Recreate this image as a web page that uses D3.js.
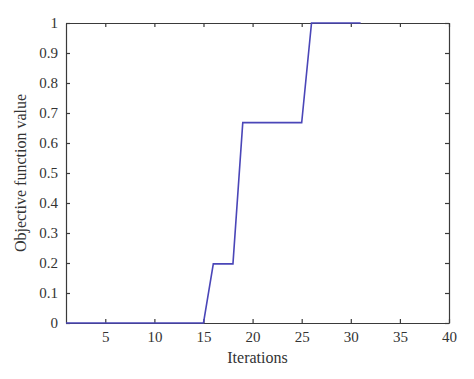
<!DOCTYPE html>
<html>
<head>
<meta charset="utf-8">
<script src="https://cdn.jsdelivr.net/npm/d3@7"></script>
<style>
  body { margin: 0; background: #fff; }
  svg text { font-family: 'Liberation Serif', 'DejaVu Serif', serif !important; }
</style>
</head>
<body>
<div id="chart"></div>
<script>
// Iteration numbers and objective value at each one
var iterations = d3.range(1, 32);
var objective = [
    0, 0, 0, 0, 0, 0, 0, 0, 0, 0, 0, 0, 0, 0, 0,
    0.197, 0.197, 0.197,
    0.668, 0.668, 0.668, 0.668, 0.668, 0.668, 0.668,
    1, 1, 1, 1, 1, 1
];
var xTicks = [5, 10, 15, 20, 25, 30, 35, 40];
var yTicks = [0, 0.1, 0.2, 0.3, 0.4, 0.5, 0.6, 0.7, 0.8, 0.9, 1];

var svgWidth = 474;
var svgHeight = 379;

var margin = { top: 23, right: 25, bottom: 56, left: 66 };
var width = svgWidth - margin.left - margin.right;
var height = svgHeight - margin.top - margin.bottom;

var svg = d3.select("#chart")
    .append("svg")
    .attr("width", svgWidth)
    .attr("height", svgHeight);

var chartGroup = svg.append("g")
    .attr("transform", `translate(${margin.left}, ${margin.top})`);

var xScale = d3.scaleLinear().domain([1, 40]).range([0, width]);
var yScale = d3.scaleLinear().domain([0, 1]).range([height, 0]);

var axisColor = "#3a3a3a";

// Bottom and left axes with labels, ticks pointing inward
var xAxis = d3.axisBottom(xScale).tickValues(xTicks).tickSizeInner(-4).tickSizeOuter(0).tickPadding(8);
var yAxis = d3.axisLeft(yScale).tickValues(yTicks).tickSizeInner(-4).tickSizeOuter(0).tickPadding(8)
    .tickFormat(d => d3.format("")(+d.toFixed(1)));

// Top and right axes, ticks only
var xTop = d3.axisTop(xScale).tickValues(xTicks).tickSizeInner(-4).tickSizeOuter(0).tickFormat("");
var yRight = d3.axisRight(yScale).tickValues(yTicks).tickSizeInner(-4).tickSizeOuter(0).tickFormat("");

function styleAxis(g) {
    g.attr("font-size", 15);
    g.selectAll("path, line").attr("stroke", axisColor).attr("stroke-width", 1.2);
    g.selectAll("text").attr("fill", "#333");
}

chartGroup.append("g").attr("transform", `translate(0, ${height})`).call(xAxis).call(styleAxis);
chartGroup.append("g").call(yAxis).call(styleAxis);
chartGroup.append("g").call(xTop).call(styleAxis);
chartGroup.append("g").attr("transform", `translate(${width}, 0)`).call(yRight).call(styleAxis);

// Objective line
var line = d3.line()
    .x((d, i) => xScale(iterations[i]))
    .y(d => yScale(d));

chartGroup.append("path")
    .datum(objective)
    .attr("d", line)
    .attr("fill", "none")
    .attr("stroke", "#4a46b8")
    .attr("stroke-width", 1.6);

// Axis titles
chartGroup.append("text")
    .attr("x", width / 2)
    .attr("y", height + 40)
    .attr("text-anchor", "middle")
    .attr("font-size", "16px")
    .attr("fill", "#333")
    .text("Iterations");

chartGroup.append("text")
    .attr("transform", "rotate(-90)")
    .attr("x", -height / 2)
    .attr("y", -40)
    .attr("text-anchor", "middle")
    .attr("font-size", "16px")
    .attr("fill", "#333")
    .text("Objective function value");
</script>
</body>
</html>
